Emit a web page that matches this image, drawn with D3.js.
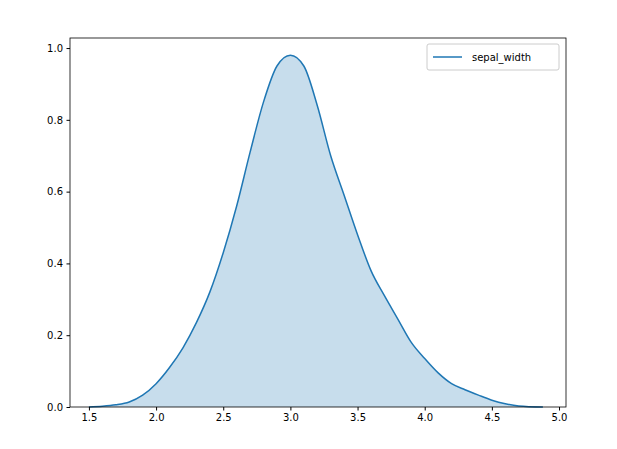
<!DOCTYPE html><html><head><meta charset="utf-8"><script src="https://cdn.jsdelivr.net/npm/d3@7"></script>
<style>body{margin:0;background:#fff}text{font-family:"DejaVu Sans";font-size:10px;fill:#000}</style></head><body>
<svg width="617" height="449"></svg>
<script>
const xs=[1.5,1.6,1.7,1.8,1.9,2.0,2.1,2.2,2.3,2.4,2.5,2.6,2.7,2.8,2.9,3.0,3.1,3.2,3.3,3.4,3.5,3.6,3.7,3.8,3.9,4.0,4.1,4.2,4.3,4.4,4.5,4.6,4.7,4.88];
const density=[0.0,0.002,0.006,0.014,0.033,0.065,0.11,0.165,0.235,0.32,0.43,0.56,0.71,0.85,0.95,0.98,0.95,0.84,0.70,0.59,0.48,0.38,0.31,0.245,0.18,0.135,0.095,0.065,0.048,0.033,0.019,0.009,0.003,0.0];
const xTicks=[1.5,2.0,2.5,3.0,3.5,4.0,4.5,5.0];
const yTicks=[0.0,0.2,0.4,0.6,0.8,1.0];
const seriesName="sepal_width";
const svg=d3.select("svg");
const L=70,R=566,T=38,B=407;
const x=d3.scaleLinear().domain([1.359,5.052]).range([L,R]);
const y=d3.scaleLinear().domain([0,1.028]).range([B,T]);
const data=xs.map((v,i)=>[v,density[i]]);
svg.append("path").datum(data).attr("fill","#1f77b4").attr("fill-opacity",0.25)
 .attr("d",d3.area().x(d=>x(d[0])).y0(y(0)).y1(d=>y(d[1])).curve(d3.curveMonotoneX));
svg.append("path").datum(data).attr("fill","none").attr("stroke","#1f77b4").attr("stroke-width",1.5)
 .attr("d",d3.line().x(d=>x(d[0])).y(d=>y(d[1])).curve(d3.curveMonotoneX));
const gx=svg.append("g").attr("transform",`translate(0,${B})`).call(d3.axisBottom(x).tickValues(xTicks).tickFormat(d3.format(".1f")).tickSize(3.5).tickPadding(3.5));
const gy=svg.append("g").attr("transform",`translate(${L},0)`).call(d3.axisLeft(y).tickValues(yTicks).tickFormat(d3.format(".1f")).tickSize(3.5).tickPadding(3.5));
[gx,gy].forEach(g=>{g.select(".domain").remove();g.selectAll("text").style("font-family","DejaVu Sans").style("font-size","10px");});
svg.append("rect").attr("x",L).attr("y",T).attr("width",R-L).attr("height",B-T).attr("fill","none").attr("stroke","#000").attr("stroke-width",0.8);
const lg=svg.append("g");
lg.append("rect").attr("x",427).attr("y",44).attr("width",132).attr("height",26).attr("rx",2).attr("fill","#fff").attr("fill-opacity",0.8).attr("stroke","#ccc");
lg.append("line").attr("x1",433).attr("x2",462).attr("y1",57).attr("y2",57).attr("stroke","#1f77b4").attr("stroke-width",1.5);
lg.append("text").attr("x",472).attr("y",61).text(seriesName);
</script></body></html>
